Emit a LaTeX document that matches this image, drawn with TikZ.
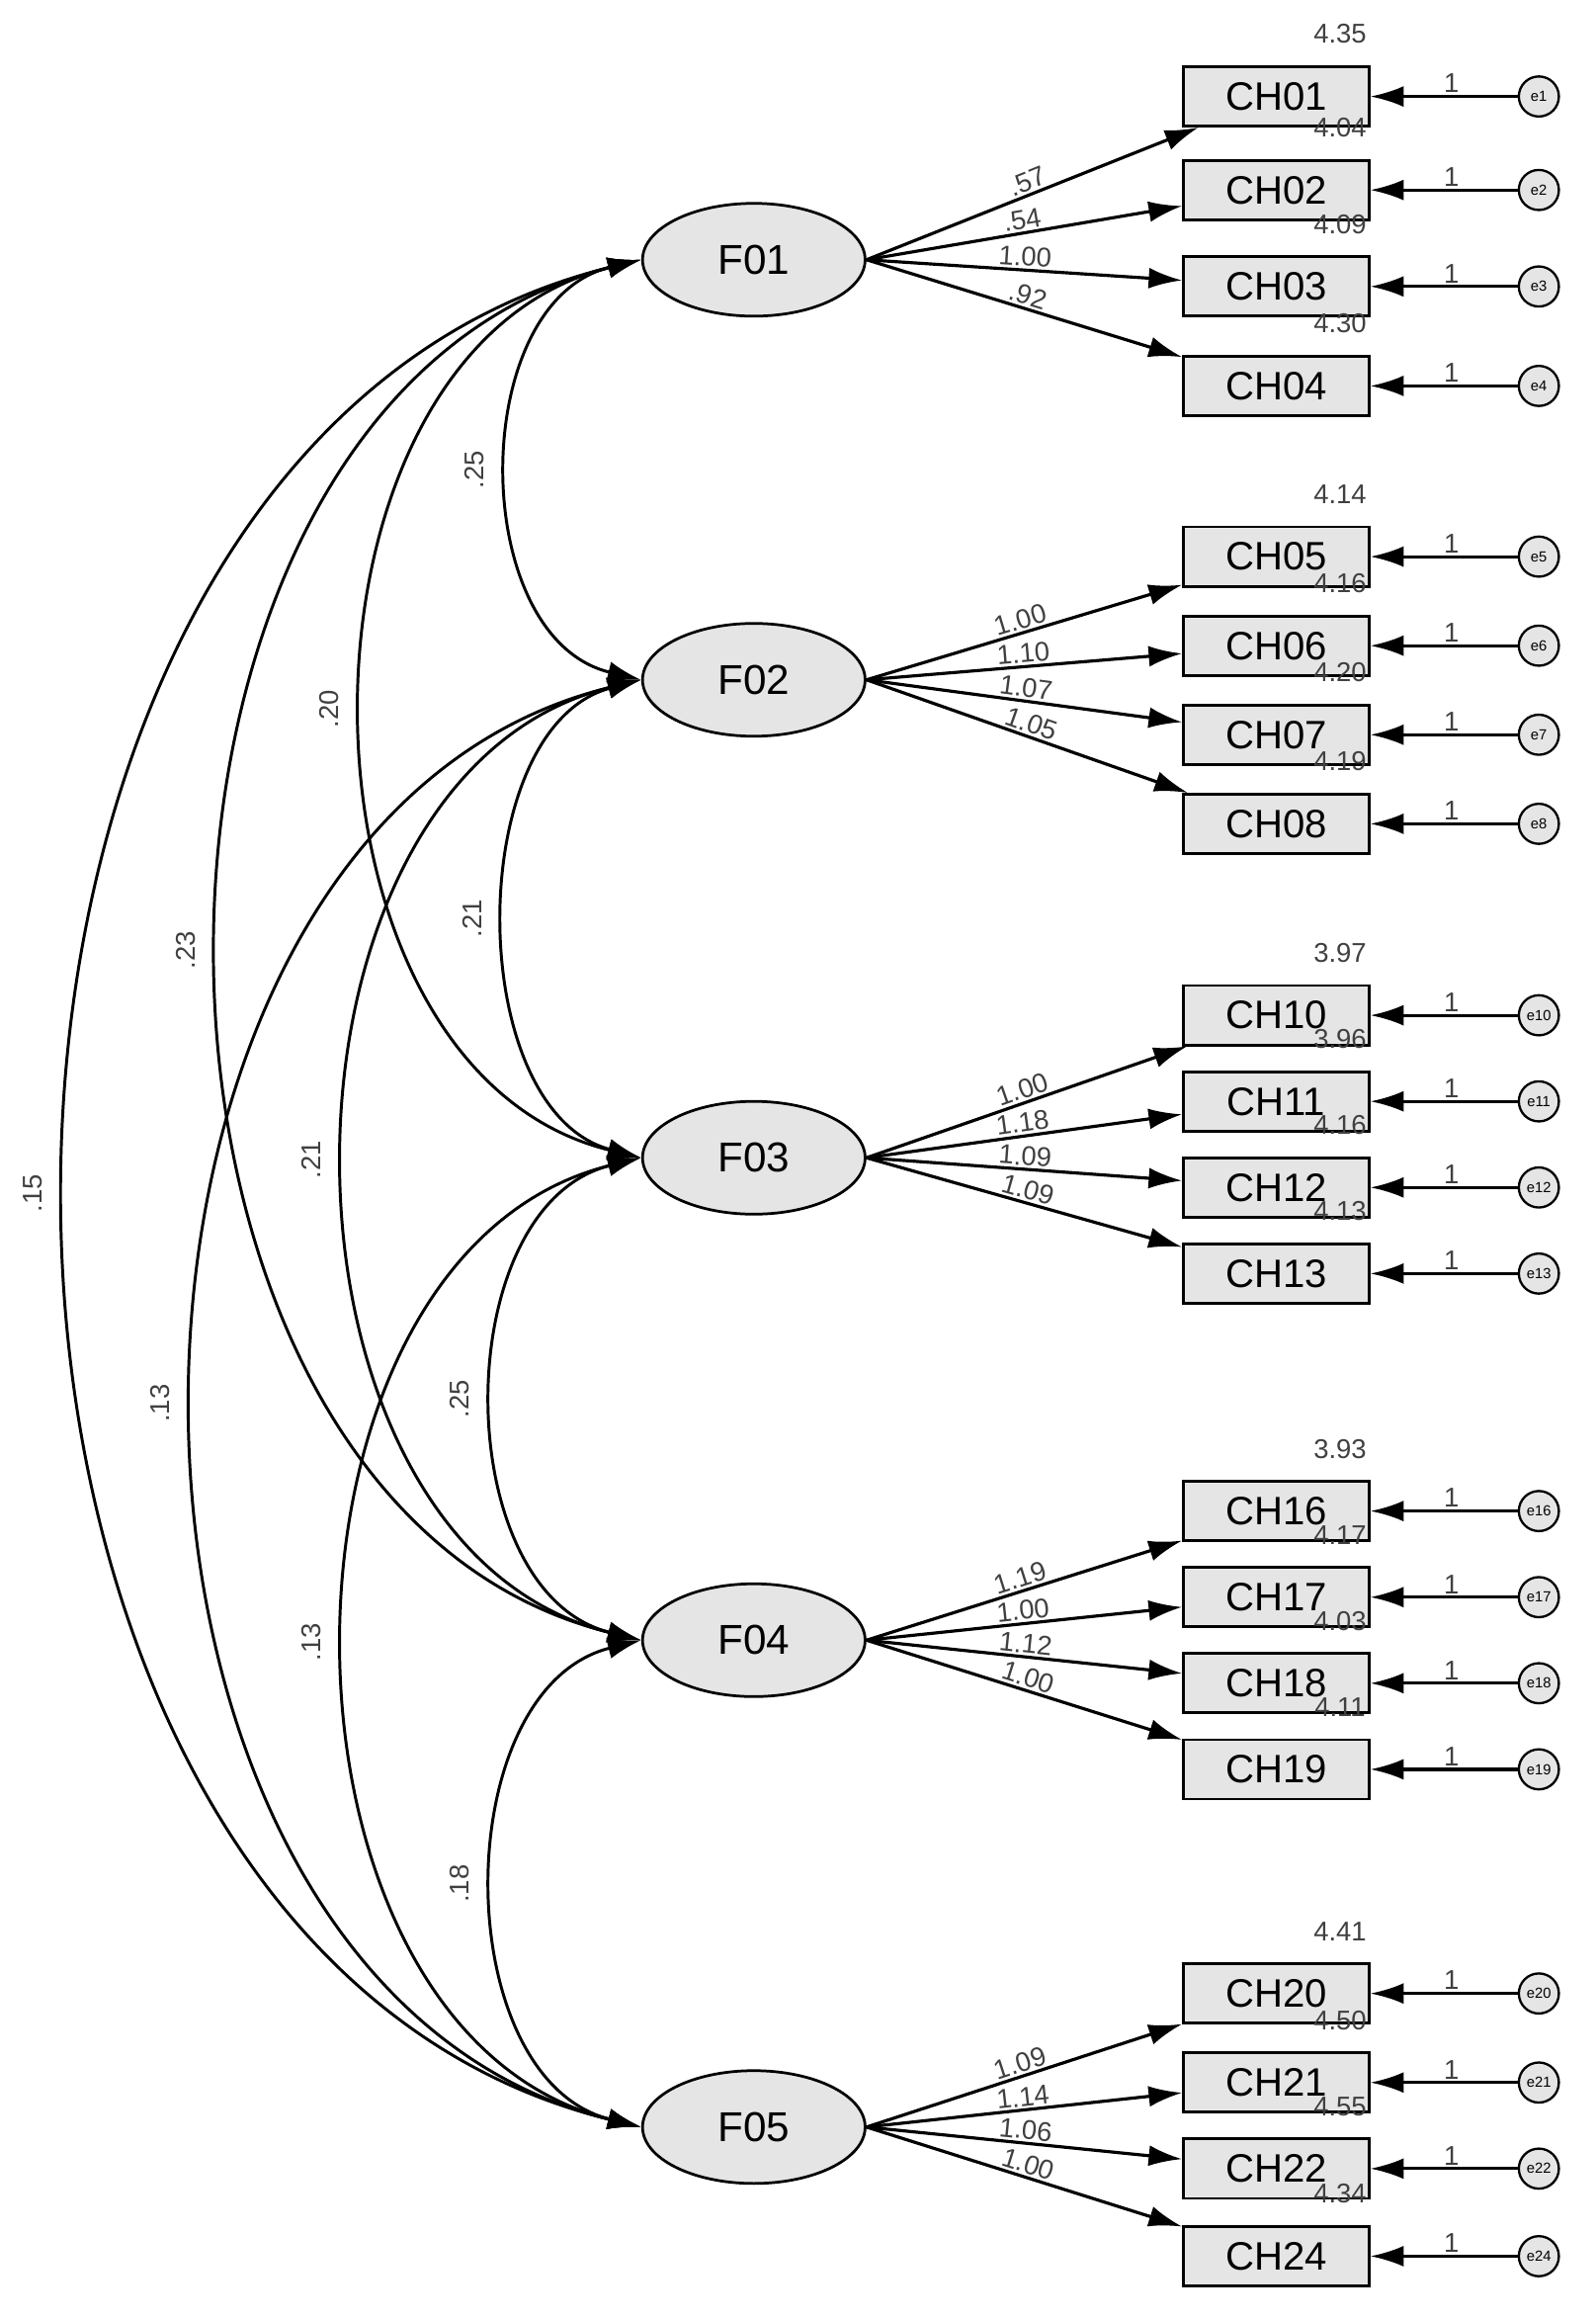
\documentclass[tikz,border=0pt]{standalone}
\usepackage{fontspec}
\setmainfont{Liberation Sans}
\usetikzlibrary{arrows.meta,shapes.geometric}
\begin{document}
\begin{tikzpicture}[x=0.025cm,y=-0.025cm,
 lat/.style={ellipse,draw,line width=1.3pt,fill=gray!20,minimum width=150*0.025cm,minimum height=76*0.025cm,inner sep=0,font=\fontsize{20}{22}\selectfont},
 obs/.style={rectangle,draw,line width=1.3pt,fill=gray!20,minimum width=125*0.025cm,minimum height=40*0.025cm,inner sep=0,font=\fontsize{19}{21}\selectfont},
 err/.style={circle,draw,line width=1.1pt,fill=gray!20,minimum size=27*0.025cm,inner sep=0,font=\fontsize{7}{8}\selectfont},
 arr/.style={line width=1.5pt,-{Latex[length=16pt,width=10pt]}},
 cov/.style={line width=1.4pt,{Latex[length=16pt,width=10pt]}-{Latex[length=16pt,width=10pt]}},
 lab/.style={font=\fontsize{13}{14}\selectfont,text=black!75,inner sep=1pt},
 ]
\useasboundingbox (0,0) rectangle (1075,1563);
\foreach \n/\y in {1/175,2/458,3/780,4/1105,5/1433}{
 \node[lat] (F\n) at (508,\y) {F0\n};
 \coordinate (L\n) at (432,\y);
}
\foreach \f/\c/\e/\y/\m/\l in {
 1/CH01/e1/65/4.35/.57, 1/CH02/e2/128/4.04/.54, 1/CH03/e3/193/4.09/1.00, 1/CH04/e4/260/4.30/.92,
 2/CH05/e5/375/4.14/1.00, 2/CH06/e6/435/4.16/1.10, 2/CH07/e7/495/4.20/1.07, 2/CH08/e8/555/4.19/1.05,
 3/CH10/e10/684/3.97/1.00, 3/CH11/e11/742/3.96/1.18, 3/CH12/e12/800/4.16/1.09, 3/CH13/e13/858/4.13/1.09,
 4/CH16/e16/1018/3.93/1.19, 4/CH17/e17/1076/4.17/1.00, 4/CH18/e18/1134/4.03/1.12, 4/CH19/e19/1192/4.11/1.00,
 5/CH20/e20/1343/4.41/1.09, 5/CH21/e21/1403/4.50/1.14, 5/CH22/e22/1461/4.55/1.06, 5/CH24/e24/1520/4.34/1.00}{
 \node[obs] (\c) at (860,\y) {\c};
 \node[err] (\e) at (1037,\y) {\e};
 \node[lab] (m\c) at (903,\y-42) {\m};
 \draw[arr] (\e) -- node[lab,above,pos=0.45] {1} (\c);
 \draw[arr] (F\f.east) -- node[lab,above,sloped,pos=0.5] {\l} (\c);
}
\foreach \a/\b/\ya/\yb/\L/\v in {1/2/175/458/320/.25,1/3/175/780/222/.20,1/4/175/1105/125/.23,1/5/175/1433/22/.15,2/3/458/780/318/.21,2/4/458/1105/210/.21,2/5/458/1433/108/.13,3/4/780/1105/310/.25,3/5/780/1433/210/.13,4/5/1105/1433/310/.18}{
 \pgfmathsetmacro\c{(8*(\L+24)-864)/6}
 \pgfmathsetmacro\ca{\ya+0.1*(\yb-\ya)}
 \pgfmathsetmacro\cb{\yb-0.1*(\yb-\ya)}
 \draw[cov] (L\a) .. controls (\c,\ca) and (\c,\cb) .. (L\b);
 \node[lab,rotate=90] (c\a\b) at (\L,{(\ya+\yb)/2}) {\v};
}
\end{tikzpicture}
\end{document}
